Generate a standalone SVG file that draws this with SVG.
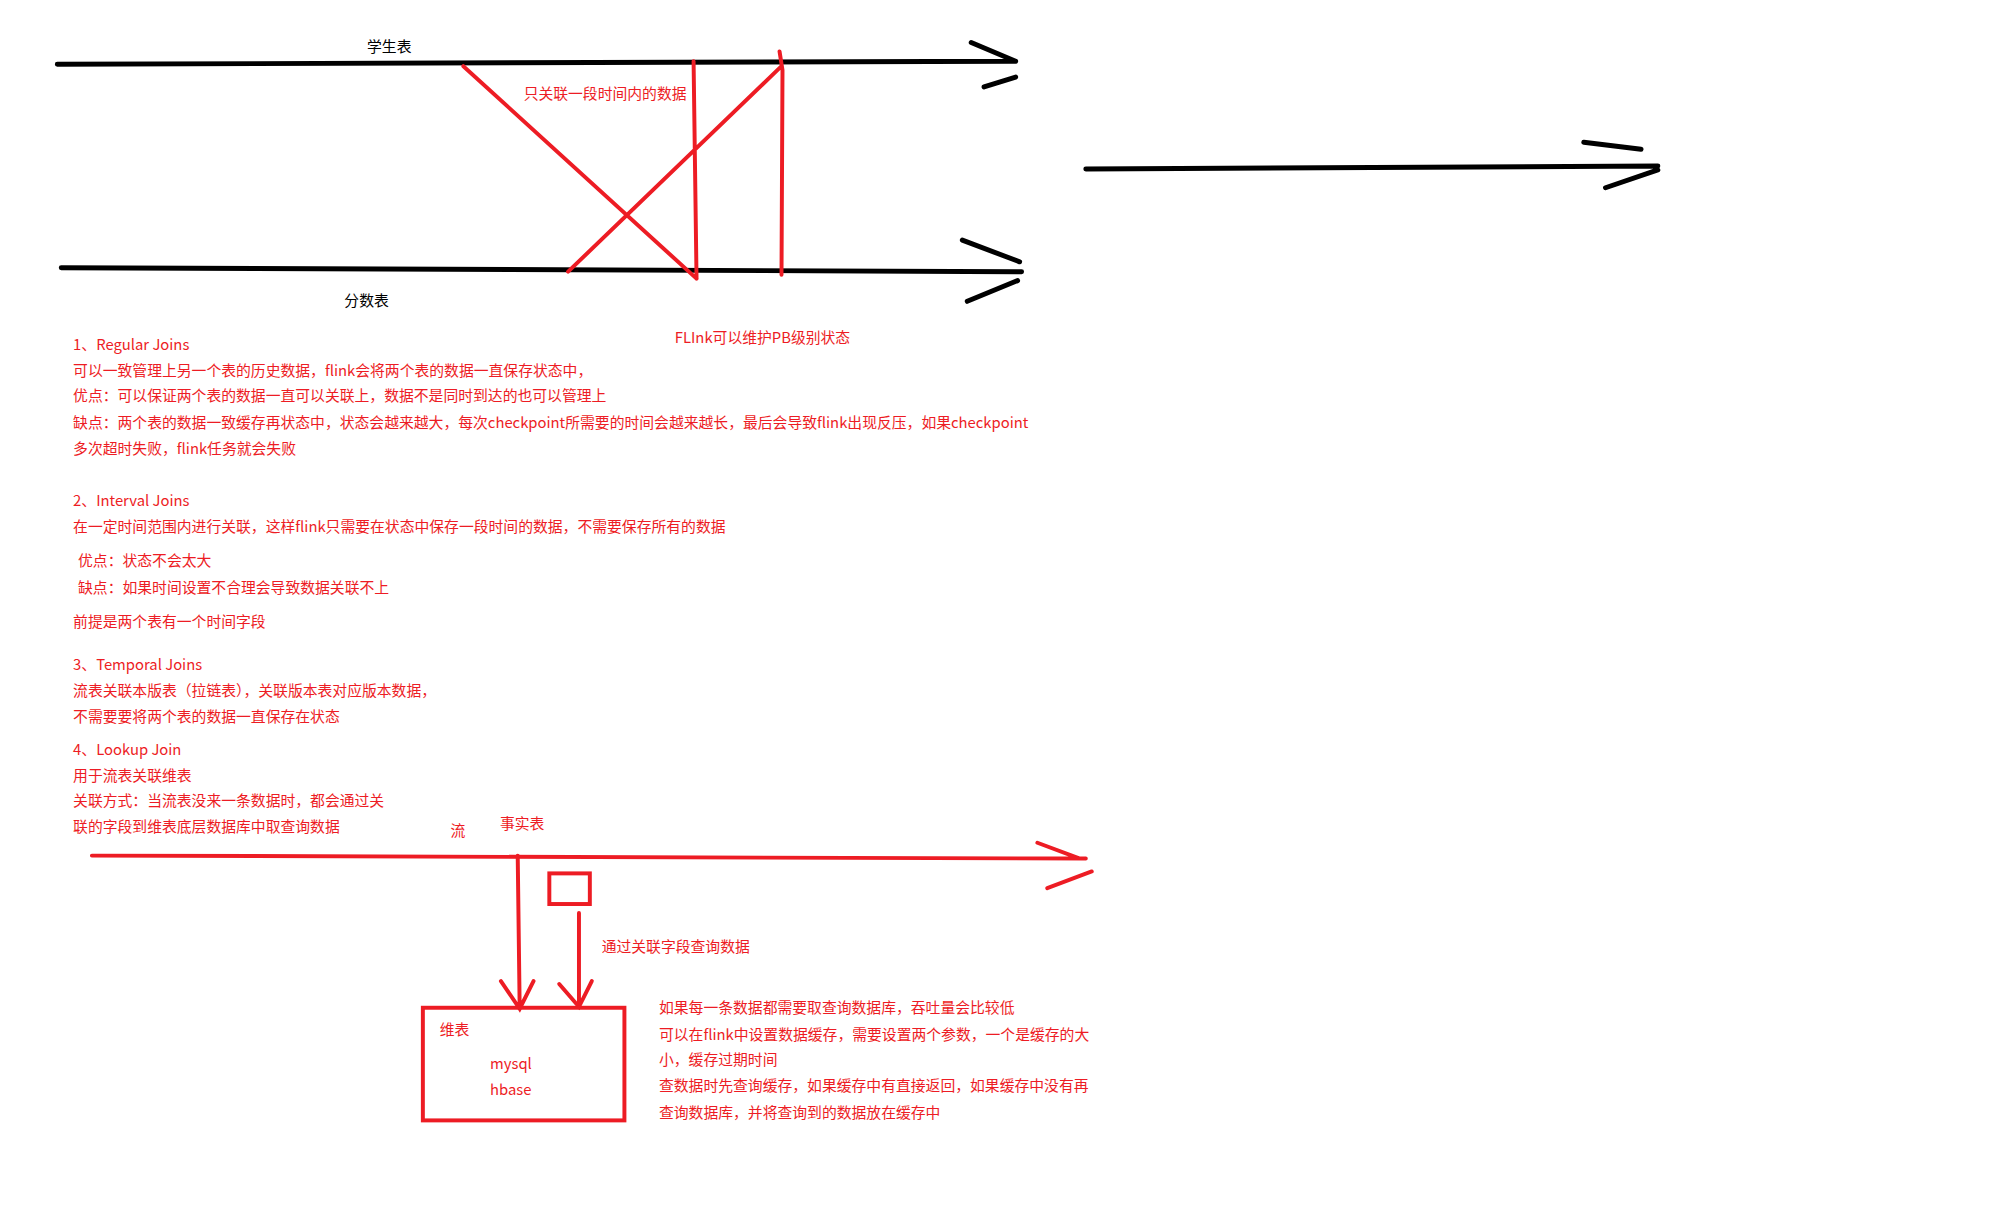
<svg xmlns="http://www.w3.org/2000/svg" width="2004" height="1208" viewBox="0 0 2004 1208">
<style>
.k{stroke:#000;stroke-width:5;fill:none;stroke-linecap:round}
.r{stroke:#ed1c24;stroke-width:4;fill:none;stroke-linecap:round}
text{font-family:"Noto Sans CJK SC","Liberation Sans",sans-serif;font-size:15px;fill:#ed1c24;dominant-baseline:middle}
.b{fill:#000}
</style>
<rect width="2004" height="1208" fill="#fff"/>
<g transform="scale(0.988)">
<g id="connectors">
<path class="k" d="M58 65 L1028 62 M983 43 L1028 62 M996 88 L1028 78"/>
<path class="k" d="M62 271 L1034 275 M974 243 L1032 265 M979 305 L1030 284"/>
<path class="k" d="M1099 171 L1678 168 M1603 144 L1661 151 M1625 190 L1678 172"/>
<path class="r" d="M469 67 L705 282 M575 275 L791 67 M702 62 L705 282 M789 52 L792 71 L791 278"/>
<path class="r" d="M93 866 L1099 869 M1050 853 L1093 869 M1060 899 L1105 882"/>
<path class="r" d="M524 866 L526 1021 M507 993 L526 1021 L540 993"/>
<path class="r" d="M586 924 L586 1019 M566 996 L586 1019 L599 993"/>
</g>
<g id="square"><rect x="556" y="884" width="41" height="31" class="r"/></g>
<g id="dimtable">
<rect x="428" y="1020" width="204" height="114" class="r"/>
<text x="445" y="1043">维表</text>
<text x="496" y="1078">mysql</text>
<text x="496" y="1104">hbase</text>
</g>
<g id="labels">
<text class="b" x="394" y="49" text-anchor="middle">学生表</text>
<text class="b" x="371" y="306" text-anchor="middle">分数表</text>
<text x="530" y="96">只关联一段时间内的数据</text>
<text x="683" y="343">FLInk可以维护PB级别状态</text>
<text x="74" y="350">1、Regular Joins</text>
<text x="74" y="376">可以一致管理上另一个表的历史数据，flink会将两个表的数据一直保存状态中，</text>
<text x="74" y="402">优点：可以保证两个表的数据一直可以关联上，数据不是同时到达的也可以管理上</text>
<text x="74" y="429">缺点：两个表的数据一致缓存再状态中，状态会越来越大，每次checkpoint所需要的时间会越来越长，最后会导致flink出现反压，如果checkpoint</text>
<text x="74" y="455">多次超时失败，flink任务就会失败</text>
<text x="74" y="508">2、Interval Joins</text>
<text x="74" y="534">在一定时间范围内进行关联，这样flink只需要在状态中保存一段时间的数据，不需要保存所有的数据</text>
<text x="79" y="569">优点：状态不会太大</text>
<text x="79" y="596">缺点：如果时间设置不合理会导致数据关联不上</text>
<text x="74" y="631">前提是两个表有一个时间字段</text>
<text x="74" y="674">3、Temporal Joins</text>
<text x="74" y="700">流表关联本版表（拉链表），关联版本表对应版本数据，</text>
<text x="74" y="727">不需要要将两个表的数据一直保存在状态</text>
<text x="74" y="760">4、Lookup Join</text>
<text x="74" y="786">用于流表关联维表</text>
<text x="74" y="812">关联方式：当流表没来一条数据时，都会通过关</text>
<text x="74" y="838">联的字段到维表底层数据库中取查询数据</text>
<text x="456" y="842">流</text>
<text x="506" y="835">事实表</text>
<text x="609" y="959">通过关联字段查询数据</text>
<text x="667" y="1021">如果每一条数据都需要取查询数据库，吞吐量会比较低</text>
<text x="667" y="1049">可以在flink中设置数据缓存，需要设置两个参数，一个是缓存的大</text>
<text x="667" y="1074">小，缓存过期时间</text>
<text x="667" y="1100">查数据时先查询缓存，如果缓存中有直接返回，如果缓存中没有再</text>
<text x="667" y="1127">查询数据库，并将查询到的数据放在缓存中</text>
</g>
</g>
</svg>
